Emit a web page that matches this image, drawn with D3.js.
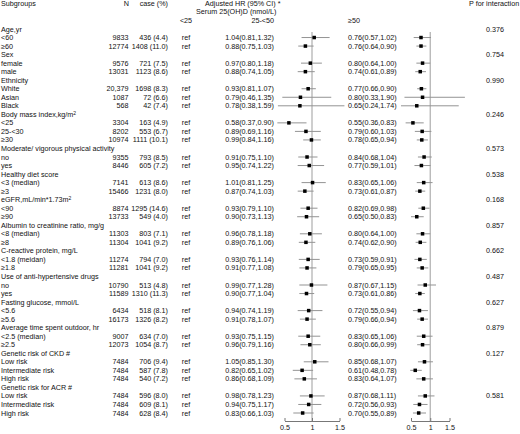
<!DOCTYPE html>
<html><head><meta charset="utf-8">
<script src="https://cdn.jsdelivr.net/npm/d3@7"></script>
<style>
html,body{margin:0;padding:0;background:#fff;}
svg text{font-family:"Liberation Sans",Arial,Helvetica,sans-serif;font-size:7.2px;fill:#111;}
</style></head>
<body>
<svg id="chart" width="520" height="434"></svg>
<script>
const subgroupLabels = ["Age,yr","<60","≥60","Sex","female","male","Ethnicity","White","Asian","Black",
 "Body mass index,kg/m^2","<25","25-<30","≥30","Moderate/ vigorous physical activity","no","yes",
 "Healthy diet score","<3 (median)","≥3","eGFR,mL/min*1.73m^2","<90","≥90",
 "Albumin to creatinine ratio, mg/g","<8 (median)","≥8","C-reactive protein, mg/L","<1.8 (meidan)","≥1.8",
 "Use of anti-hypertensive drugs","no","yes","Fasting glucose, mmol/L","<5.6","≥5.6",
 "Average time spent outdoor, hr","<2.5 (median)","≥2.5","Genetic risk of CKD #","Low risk","Intermediate risk","High risk",
 "Genetic risk for ACR #","Low risk","Intermediate risk","High risk"];
const nValues = [null,"9833","12774",null,"9576","13031",null,"20,379","1087","568",
 null,"3304","8202","10974",null,"9355","8446",null,"7141","15466",null,"8874","13733",
 null,"11303","11304",null,"11274","11281",null,"10790","11589",null,"6434","16173",
 null,"9007","12073",null,"7484","7484","7484",null,"7484","7484","7484"];
const caseValues = [null,"436 (4.4)","1408 (11.0)",null,"721 (7.5)","1123 (8.6)",null,"1698 (8.3)","72 (6.6)","42 (7.4)",
 null,"163 (4.9)","553 (6.7)","1111 (10.1)",null,"793 (8.5)","605 (7.2)",null,"613 (8.6)","1231 (8.0)",null,"1295 (14.6)","549 (4.0)",
 null,"803 (7.1)","1041 (9.2)",null,"794 (7.0)","1041 (9.2)",null,"513 (4.8)","1310 (11.3)",null,"518 (8.1)","1326 (8.2)",
 null,"634 (7.0)","1054 (8.7)",null,"706 (9.4)","587 (7.8)","540 (7.2)",null,"596 (8.0)","609 (8.1)","628 (8.4)"];
// Serum 25(OH)D 25-<50 vs <25
const hrMid25 = [null,1.04,0.88,null,0.97,0.88,null,0.93,0.79,0.78,null,0.58,0.89,0.99,null,0.91,0.95,null,1.01,0.87,null,0.93,0.90,
 null,0.96,0.89,null,0.93,0.91,null,0.99,0.90,null,0.94,0.91,null,0.93,0.96,null,1.05,0.82,0.86,null,0.98,0.94,0.83];
const hrLow25 = [null,0.81,0.75,null,0.80,0.74,null,0.81,0.46,0.38,null,0.37,0.69,0.84,null,0.75,0.74,null,0.81,0.74,null,0.79,0.73,
 null,0.78,0.76,null,0.76,0.77,null,0.77,0.77,null,0.74,0.78,null,0.75,0.79,null,0.85,0.65,0.68,null,0.78,0.75,0.66];
const hrHigh25 = [null,1.32,1.03,null,1.18,1.05,null,1.07,1.35,1.59,null,0.90,1.16,1.16,null,1.10,1.22,null,1.25,1.03,null,1.10,1.13,
 null,1.18,1.06,null,1.14,1.08,null,1.28,1.04,null,1.19,1.07,null,1.15,1.16,null,1.30,1.02,1.09,null,1.23,1.17,1.03];
// Serum 25(OH)D >=50 vs <25
const hrMid50 = [null,0.76,0.76,null,0.80,0.74,null,0.77,0.80,0.65,null,0.55,0.79,0.78,null,0.84,0.77,null,0.83,0.73,null,0.82,0.65,
 null,0.80,0.74,null,0.73,0.79,null,0.87,0.73,null,0.72,0.79,null,0.83,0.80,null,0.85,0.61,0.83,null,0.87,0.72,0.70];
const hrLow50 = [null,0.57,0.64,null,0.64,0.61,null,0.66,0.33,0.24,null,0.36,0.60,0.65,null,0.68,0.59,null,0.65,0.61,null,0.69,0.50,
 null,0.64,0.62,null,0.59,0.65,null,0.67,0.61,null,0.55,0.66,null,0.65,0.66,null,0.68,0.48,0.64,null,0.68,0.56,0.55];
const hrHigh50 = [null,1.02,0.90,null,1.00,0.89,null,0.90,1.90,1.74,null,0.83,1.03,0.94,null,1.04,1.01,null,1.06,0.87,null,0.98,0.83,
 null,1.00,0.90,null,0.91,0.95,null,1.15,0.86,null,0.94,0.94,null,1.06,0.99,null,1.07,0.78,1.07,null,1.11,0.93,0.89];
const pValues = ["0.376",null,null,"0.754",null,null,"0.990",null,null,null,"0.246",null,null,null,"0.573",null,null,
 "0.538",null,null,"0.168",null,null,"0.857",null,null,"0.662",null,null,"0.487",null,null,"0.627",null,null,
 "0.879",null,null,"0.127",null,null,null,null,"0.581",null,null];
const axisTicks = [0.5, 1, 1.5];
const axisTickLabels = ["0.5", "1", "1.5"];

const svg = d3.select("#chart");
const idx = d3.range(subgroupLabels.length);
const y = d3.scaleLinear().domain([0, subgroupLabels.length - 1]).range([29, 413]);
const rowStep = y(1) - y(0);
const x1 = d3.scaleLinear().domain([0.5, 1.5]).range([284.5, 339.5]);
const x2 = d3.scaleLinear().domain([0.5, 1.5]).range([411, 449.5]);
const fmt = d3.format(".2f");
const hrText = (m, l, h) => `${fmt(m)}(${fmt(l)},${fmt(h)})`;

// headers
const hdr = [
  {t:"Subgroups", x:1, r:-3, a:"start"},
  {t:"N", x:129, r:-3, a:"end"},
  {t:"case (%)", x:168, r:-3, a:"end"},
  {t:"Adjusted HR (95% CI) *", x:205, r:-3, a:"start"},
  {t:"Serum 25(OH)D (nmol/L)", x:196, r:-2, a:"start"},
  {t:"<25", x:186, r:-1, a:"middle"},
  {t:"25-<50", x:274, r:-1, a:"end"},
  {t:"≥50", x:348, r:-1, a:"start"},
  {t:"P for interaction", x:469, r:-3, a:"start"}
];
svg.append("g").selectAll("text").data(hdr).join("text")
  .attr("x", d => d.x).attr("y", d => y(0) + d.r * rowStep).attr("dy", "0.35em")
  .attr("text-anchor", d => d.a).text(d => d.t);

// subgroup labels with superscripts
const lab = svg.append("g").selectAll("text").data(idx).join("text")
  .attr("x", 1).attr("y", i => y(i)).attr("dy", "0.35em");
lab.each(function(i){
  const parts = subgroupLabels[i].split("^");
  const t = d3.select(this);
  t.append("tspan").text(parts[0]);
  if (parts[1]) t.append("tspan").attr("dy", "-0.35em").style("font-size", "5px").text(parts[1]);
});

const dataIdx = idx.filter(i => nValues[i] !== null);
const colText = (vals, x, anchor) => svg.append("g").selectAll("text").data(dataIdx).join("text")
  .attr("x", x).attr("y", i => y(i)).attr("dy", "0.35em").attr("text-anchor", anchor).text(i => vals(i));
colText(i => nValues[i], 128.5, "end");
colText(i => caseValues[i], 168, "end");
colText(i => "ref", 186, "middle");
colText(i => hrText(hrMid25[i], hrLow25[i], hrHigh25[i]), 274, "end");
colText(i => hrText(hrMid50[i], hrLow50[i], hrHigh50[i]), 348, "start");

svg.append("g").selectAll("text").data(idx.filter(i => pValues[i] !== null)).join("text")
  .attr("x", 495).attr("y", i => y(i)).attr("dy", "0.35em").attr("text-anchor", "middle").text(i => pValues[i]);

// forest panels
const axisY = 421;
function panel(x, mid, lo, hi) {
  const g = svg.append("g");
  g.append("line").attr("x1", x(1)).attr("x2", x(1)).attr("y1", y(0) + 3).attr("y2", axisY)
    .attr("stroke", "#b4b4b4").attr("stroke-width", 1.3);
  g.selectAll("line.ci").data(dataIdx).join("line").attr("class", "ci")
    .attr("x1", i => x(lo[i])).attr("x2", i => x(hi[i])).attr("y1", i => y(i)).attr("y2", i => y(i))
    .attr("stroke", "#939393").attr("stroke-width", 1);
  const s = 3.5;
  g.selectAll("rect").data(dataIdx).join("rect")
    .attr("x", i => x(mid[i]) - s / 2).attr("y", i => y(i) - s / 2).attr("width", s).attr("height", s)
    .attr("fill", "#000");
  const ax = g.append("g").attr("transform", `translate(0,${axisY})`)
    .call(d3.axisBottom(x).tickValues(axisTicks).tickFormat((d, k) => axisTickLabels[k])
      .tickSize(-3).tickSizeOuter(0).tickPadding(4));
  ax.selectAll("path,line").attr("stroke", "#777");
  ax.selectAll("text").attr("fill", "#111").style("font-size", "7.2px")
    .style("font-family", '"Liberation Sans",Arial,sans-serif');
}
panel(x1, hrMid25, hrLow25, hrHigh25);
panel(x2, hrMid50, hrLow50, hrHigh50);
</script>
</body></html>
